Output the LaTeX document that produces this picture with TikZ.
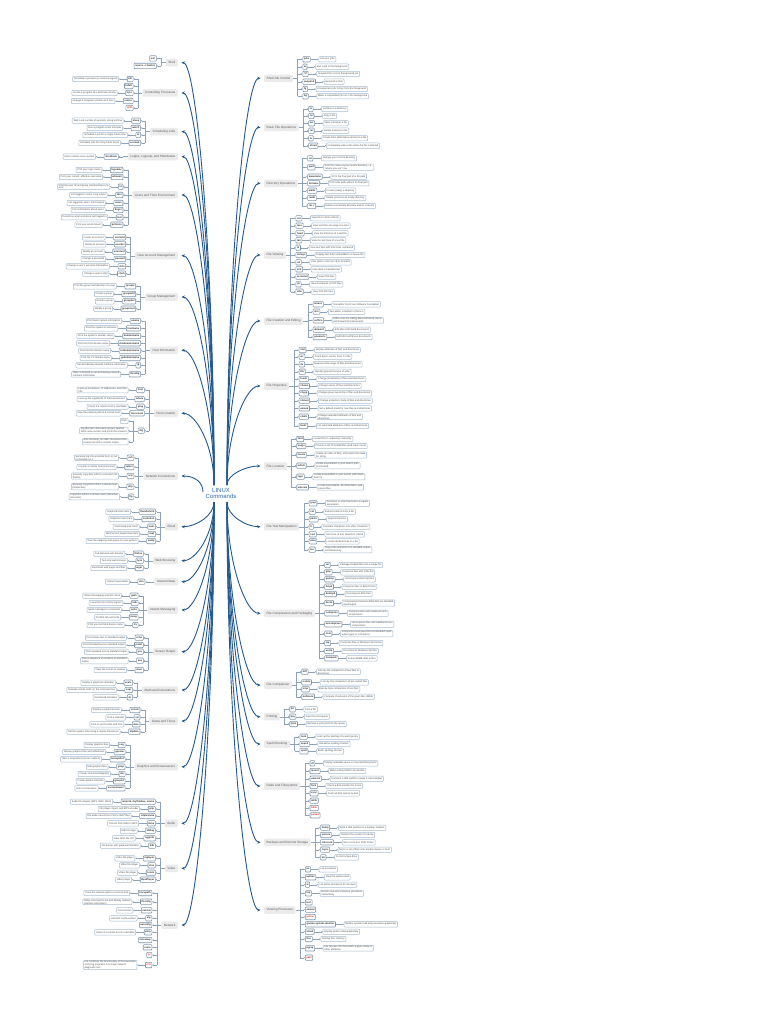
\documentclass[tikz,border=0pt]{standalone}
\usepackage{fontspec}
\setmainfont{Liberation Sans}
\usepackage{tikz}
\usetikzlibrary{arrows.meta}
\usetikzlibrary{calc}
\usepackage{xcolor}
\definecolor{trunk}{HTML}{245A8E}
\definecolor{hubblue}{HTML}{2F6CA6}
\definecolor{topicfill}{HTML}{EBEBEB}
\definecolor{topictext}{HTML}{5A5A5A}
\definecolor{cmdline}{HTML}{7E97AF}
\definecolor{descline}{HTML}{A7BCD0}
\definecolor{cmdtext}{HTML}{2A2A2A}
\definecolor{desctext}{HTML}{4A4A4A}
\definecolor{twigc}{HTML}{8CA3B9}
\definecolor{warnred}{HTML}{E0301E}

% left branch: category, its commands and their notes
\newcommand{\leftcat}[4]{%
  \node[topic,anchor=east] (#1) at (178,#2) {#3};
  \coordinate (brk) at ([xshift=-4.5pt]#1.west);
  \draw[spine] (#1.west) -- (brk);
  \draw[conn] (#4) .. controls ($(#4)!0.55!(#4 |- #1.east)$) and ([xshift=18pt]#1.east) .. ([xshift=3.5pt]#1.east);
}
\newcommand{\leftcmd}[5][]{%
  \node[cmd,anchor=east,xshift=-4.5pt,#1] (#2) at (brk |- 0,#3) {#4};
  \node[desc,anchor=east] (#2d) at ([xshift=-8pt]#2.west) {#5};
  \draw[twig] (brk |- #2) -- (#2.east);
  \draw[twig] (#2.west) -- (#2d.east);
}
\newcommand{\leftbare}[4][]{%
  \node[cmd,anchor=east,xshift=-4.5pt,#1] (#2) at (brk |- 0,#3) {#4};
  \draw[twig] (brk |- #2) -- (#2.east);
}
% right branch
\newcommand{\rightcat}[4]{%
  \node[topic,anchor=west] (#1) at (264,#2) {#3};
  \coordinate (brk) at ([xshift=4.5pt]#1.east);
  \draw[spine] (#1.east) -- (brk);
  \draw[conn] (#4) .. controls ($(#4)!0.55!(#4 |- #1.west)$) and ([xshift=-18pt]#1.west) .. ([xshift=-3.5pt]#1.west);
}
\newcommand{\rightcmd}[5][]{%
  \node[cmd,anchor=west,xshift=5pt,#1] (#2) at (brk |- 0,#3) {#4};
  \node[desc,anchor=west] (#2d) at ([xshift=8pt]#2.east) {#5};
  \draw[twig] (brk |- #2) -- (#2.west);
  \draw[twig] (#2.east) -- (#2d.west);
}
\newcommand{\rightbare}[4][]{%
  \node[cmd,anchor=west,xshift=5pt,#1] (#2) at (brk |- 0,#3) {#4};
  \draw[twig] (brk |- #2) -- (#2.west);
}
\newcommand{\spinebar}[2]{\draw[spine] (brk |- #1) -- (brk |- #2);}

\begin{document}
\begin{tikzpicture}[x=1pt,y=-1pt,>=Stealth,
  topic/.style={fill=topicfill,text=topictext,rounded corners=1pt,inner xsep=2.5pt,inner ysep=1pt,minimum height=7.5pt,font=\fontsize{3.1}{3.6}\selectfont},
  cmd/.style={draw=cmdline,line width=0.6pt,fill=white,rounded corners=0.8pt,inner xsep=1.2pt,inner ysep=0.6pt,minimum height=5.4pt,text=cmdtext,font=\bfseries\fontsize{2.5}{2.9}\selectfont},
  desc/.style={draw=descline,line width=0.5pt,fill=white,rounded corners=0.8pt,inner xsep=1.3pt,inner ysep=0.6pt,minimum height=5.4pt,align=left,text=desctext,font=\fontsize{2.45}{2.85}\selectfont},
  warn/.style={text=warnred},
  twig/.style={draw=twigc,line width=0.35pt,-{Stealth[length=1.4pt,width=1.4pt]}},
  spine/.style={draw=twigc,line width=0.4pt},
  conn/.style={draw=trunk,line width=0.9pt,-{Stealth[length=3.2pt,width=3pt]}},
  hubtext/.style={text=hubblue,align=center,font=\fontsize{6}{6.8}\selectfont}]

	\fill[white] (0,0) rectangle (768,1024);
	\useasboundingbox (0,0) rectangle (768,1024);

	%--- centre ---
	\node[hubtext] (hub) at (221,493.5) {LINUX\\Commands};
	\coordinate (hubNL) at (214,485);
	\coordinate (hubNR) at (227,485);
	\coordinate (hubSL) at (214,502);
	\coordinate (hubSR) at (227,502);
	\coordinate (hubW) at (203,492);

	%--- left: Shell ---
	\leftcat{sh}{62.7}{Shell}{hubNL}
	\leftbare{sh1}{58.5}{exit}
	\leftbare{sh2}{66}{source \textasciitilde/.bashrc}
	\spinebar{sh1}{sh2}

	%--- left: Controlling Processes ---
	\leftcat{cp}{93}{Controlling Processes}{hubNL}
	\leftcmd{cp1}{79}{kill}{Terminate a process (or send it a signal)}
	\leftbare{cp2}{86}{killall}
	\leftcmd{cp3}{93}{nice}{Invoke a program at a particular priority}
	\leftcmd{cp4}{101}{renice}{Change a program's priority as it runs}
	\leftbare[warn]{cp5}{108}{xkill}
	\spinebar{cp1}{cp5}

	%--- left: Scheduling Jobs ---
	\leftcat{sj}{131.7}{Scheduling Jobs}{hubNL}
	\leftcmd{sj1}{120.7}{sleep}{Wait a set number of seconds, doing nothing}
	\leftcmd{sj2}{128}{watch}{Run a program at set intervals}
	\leftcmd{sj3}{135}{at}{Schedule a job for a single, future time}
	\leftcmd{sj4}{143}{crontab}{Schedule jobs for many future times}
	\spinebar{sj1}{sj4}

	%--- left: Logins, Logouts, and Shutdowns ---
	\leftcat{lo}{156.7}{Logins, Logouts, and Shutdowns}{hubNL}
	\leftcmd{lo1}{156.7}{shutdown}{Halt or reboot Linux system}

	%--- left: Users and Their Environment ---
	\leftcat{ue}{195}{Users and Their Environment}{hubNL}
	\leftcmd{ue1}{170}{logname}{Print your login name}
	\leftcmd{ue2}{177}{whoami}{Print your current, effective username}
	\leftcmd{ue3}{186.7}{id}{Print the user ID and group memberships of a\\user}
	\leftcmd{ue4}{195}{who}{List logged-in users, long output}
	\leftcmd{ue5}{203}{users}{List logged-in users, short output}
	\leftcmd{ue6}{210}{finger}{Print information about users}
	\leftcmd{ue7}{217.3}{last}{Determine when someone last logged in}
	\leftcmd{ue8}{224.7}{printenv}{Print your environment}
	\spinebar{ue1}{ue8}

	%--- left: User Account Management ---
	\leftcat{ua}{255.7}{User Account Management}{hubNL}
	\leftcmd{ua1}{237.3}{useradd}{Create an account}
	\leftcmd{ua2}{244.3}{userdel}{Delete an account}
	\leftcmd{ua3}{251.7}{usermod}{Modify an account}
	\leftcmd{ua4}{259}{passwd}{Change a password}
	\leftcmd{ua5}{266.3}{chfn}{Change a user's personal information}
	\leftcmd{ua6}{273.7}{chsh}{Change a user's shell}
	\spinebar{ua1}{ua6}

	%--- left: Group Management ---
	\leftcat{gm}{297}{Group Management}{hubNL}
	\leftcmd{gm1}{286.3}{groups}{Print the group membership of a user}
	\leftcmd{gm2}{294}{groupadd}{Create a group}
	\leftcmd{gm3}{301.3}{groupdel}{Delete a group}
	\leftcmd{gm4}{308.7}{groupmod}{Modify a group}
	\spinebar{gm1}{gm4}

	%--- left: Host Information ---
	\leftcat{hi}{350.3}{Host Information}{hubNL}
	\leftcmd{hi1}{321}{uname}{Print basic system information}
	\leftcmd{hi2}{328.3}{hostname}{Print the system's hostname}
	\leftcmd{hi3}{336}{domainname}{Print the system's domain name}
	\leftcmd{hi4}{343.3}{dnsdomainname}{Print the DNS domain name}
	\leftcmd{hi5}{350.7}{nisdomainname}{Print the NIS domain name}
	\leftcmd{hi6}{358}{ypdomainname}{Print the YP domain name}
	\leftcmd{hi7}{365.3}{ip}{Set and display network interface information}
	\leftcmd{hi8}{374.3}{ifconfig}{Older command to set and display network\\interface information}
	\spinebar{hi1}{hi8}

	%--- left: Host Location ---
	\leftcat{hl}{413.3}{Host Location}{hubNL}
	\leftcmd{hl1}{390}{host}{Look up hostnames, IP addresses, and DNS\\info}
	\leftcmd{hl2}{399}{whois}{Look up the registrants of Internet domains}
	\leftcmd{hl3}{406.7}{ping}{Check if a remote host is reachable}
	\leftcmd{hl4}{413.3}{traceroute}{View the network path to a remote host}
	\leftbare{hl5}{430.7}{dig}
	\coordinate (hlk) at ([xshift=-4.5pt]hl5.west);
	\draw[spine] (hl5.west) -- (hlk);
	\node[desc,anchor=east] (hl5a) at ([xshift=-5pt]hlk |- 0,421) {DNS};
	\node[desc,anchor=east] (hl5b) at ([xshift=-5pt]hlk |- 0,430.7) {Dig (domain information groper) queries\\DNS name servers and prints the answers};
	\node[desc,anchor=east] (hl5c) at ([xshift=-5pt]hlk |- 0,441.7) {Also nslookup, an older interactive DNS\\lookup tool with a simpler output};
	\draw[twig] (hlk |- hl5a) -- (hl5a.east);
	\draw[twig] (hlk |- hl5b) -- (hl5b.east);
	\draw[twig] (hlk |- hl5c) -- (hl5c.east);
	\draw[spine] (hlk |- hl5a) -- (hlk |- hl5c);
	\spinebar{hl1}{hl5}

	%--- left: Network Connections ---
	\leftcat{nc}{476}{Network Connections}{hubW}
	\leftcmd{nc1}{457.7}{ssh}{Securely log into a remote host, or run\\commands on it}
	\leftcmd{nc2}{467}{telnet}{Log into a remote host (insecure!)}
	\leftcmd{nc3}{476}{scp}{Securely copy files to/from a remote host\\(batch)}
	\leftcmd{nc4}{486.7}{sftp}{Securely copy files to/from a remote host\\(interactive)}
	\leftcmd{nc5}{496.7}{ftp}{Copy files to/from a remote host (interactive,\\insecure!)}
	\spinebar{nc1}{nc5}

	%--- left: Email ---
	\leftcat{em}{526.7}{Email}{hubSL}
	\leftcmd{em1}{511.7}{thunderbird}{Graphical mail client}
	\leftcmd{em2}{519}{evolution}{Graphical mail client}
	\leftcmd{em3}{526.7}{mutt}{Text-based mail client}
	\leftcmd{em4}{534}{mail}{Minimal text-based mail client}
	\leftcmd{em5}{541}{mailq}{View the outgoing mail queue on your system}
	\spinebar{em1}{em5}

	%--- left: Web Browsing ---
	\leftcat{wb}{560.7}{Web Browsing}{hubSL}
	\leftcmd{wb1}{553.7}{firefox}{Full-featured web browser}
	\leftcmd{wb2}{560.7}{lynx}{Text-only web browser}
	\leftcmd{wb3}{568}{wget}{Download web pages and files}
	\spinebar{wb1}{wb3}

	%--- left: Usenet News ---
	\leftcat{un}{581.7}{Usenet News}{hubSL}
	\leftcmd{un1}{581.7}{slrn}{Usenet newsreader}

	%--- left: Instant Messaging ---
	\leftcat{im}{610}{Instant Messaging}{hubSL}
	\leftcmd{im1}{595.7}{gaim}{Instant messaging and IRC client}
	\leftcmd{im2}{603}{talk}{Linux/Unix text chat program}
	\leftcmd{im3}{610}{write}{Send messages to a terminal}
	\leftcmd{im4}{617.3}{mesg}{Prohibit talk and write}
	\leftcmd{im5}{625}{tty}{Print your terminal device name}
	\spinebar{im1}{im5}

	%--- left: Screen Output ---
	\leftcat{so}{651.7}{Screen Output}{hubSL}
	\leftcmd{so1}{637.7}{echo}{Print simple text on standard output}
	\leftcmd{so2}{645}{printf}{Print formatted text on standard output}
	\leftcmd{so3}{651.7}{yes}{Print repeated text on standard output}
	\leftcmd{so4}{660.7}{seq}{Print a sequence of numbers on standard\\output}
	\leftcmd{so5}{670}{clear}{Clear the screen or window}
	\spinebar{so1}{so5}

	%--- left: Math and Calculations ---
	\leftcat{mc}{690}{Math and Calculations}{hubSL}
	\leftcmd{mc1}{682.7}{xcalc}{Display a graphical calculator}
	\leftcmd{mc2}{690}{expr}{Evaluate simple math on the command line}
	\leftcmd{mc3}{697.3}{dc}{Text-based calculator}
	\spinebar{mc1}{mc3}

	%--- left: Dates and Times ---
	\leftcat{dt}{721}{Dates and Times}{hubSL}
	\leftcmd{dt1}{710}{xclock}{Display a graphical clock}
	\leftcmd{dt2}{717.3}{cal}{Print a calendar}
	\leftcmd{dt3}{724.3}{date}{Print or set the date and time}
	\leftcmd{dt4}{731.7}{ntpdate}{Set the system time using a remote timeserver}
	\spinebar{dt1}{dt4}

	%--- left: Graphics and Screensavers ---
	\leftcat{gs}{766.7}{Graphics and Screensavers}{hubSL}
	\leftcmd{gs1}{745}{eog}{Display graphics files}
	\leftcmd{gs2}{752}{gqview}{Display graphics files and slideshows}
	\leftcmd{gs3}{759.3}{ksnapshot}{Take a screenshot (screen capture)}
	\leftcmd{gs4}{766.7}{gimp}{Edit graphics files}
	\leftcmd{gs5}{774}{dia}{Create structured diagrams}
	\leftcmd{gs6}{781.3}{gnuplot}{Create graphs and plots}
	\leftcmd{gs7}{788.3}{xscreensaver}{Run a screensaver}
	\spinebar{gs1}{gs7}

	%--- left: Audio ---
	\leftcat{au}{823.3}{Audio}{hubSL}
	\leftcmd{au1}{801.7}{amarok, rhythmbox, xmms}{Audio file players (MP3, WAV, OGG)}
	\leftcmd{au2}{809}{grip}{CD player, ripper, and MP3 encoder}
	\leftcmd{au3}{816}{cdparanoia}{Rip audio tracks from CDs to WAV files}
	\leftcmd{au4}{823.3}{lame}{Convert from WAV to MP3}
	\leftcmd{au5}{830.7}{id3tag}{Edit ID3 tags}
	\leftcmd{au6}{838.3}{ogginfo}{View OGG file info}
	\leftcmd{au7}{845.7}{k3b}{CD burner with graphical interface}
	\spinebar{au1}{au7}

	%--- left: Video ---
	\leftcat{vd}{868.3}{Video}{hubSL}
	\leftcmd{vd1}{858.3}{mplayer}{Video file player}
	\leftcmd{vd2}{865.3}{xine}{Video file player}
	\leftcmd{vd3}{872.7}{totem}{Video file player}
	\leftcmd{vd4}{879.7}{RealPlayer}{Video player}
	\spinebar{vd1}{vd4}

	%--- left: Network ---
	\leftcat{nw}{925}{Network}{hubSL}
	\leftcmd{nw1}{893}{tracepath}{Trace the network path to a remote host}
	\leftcmd{nw2}{901.7}{ifconfig}{Older command to set and display network\\interface information}
	\leftcmd{nw3}{910.3}{netstat}{Connections}
	\leftcmd{nw4}{918.3}{arp}{List ARP cache entries}
	\leftbare{nw5}{925}{iwconfig}
	\leftcmd{nw6}{932.3}{ping}{Check if a remote host is reachable}
	\leftbare{nw7}{940}{nslookup}
	\leftbare{nw8}{947.3}{route}
	\leftbare[warn]{nw9}{955}{nc}
	\leftcmd[warn]{nw10}{965}{mtr}{mtr combines the functionality of the traceroute\\and ping programs in a single network\\diagnostic tool}
	\spinebar{nw1}{nw10}

	%--- right: Shell Job Control ---
	\rightcat{sc}{78.3}{Shell Job Control}{hubNR}
	\rightcmd{sc1}{59.3}{jobs}{List your jobs}
	\rightcmd{sc2}{66.7}{\&}{Run a job in the background}
	\rightcmd{sc3}{74}{\^{}Z}{Suspend the current (foreground) job}
	\rightcmd{sc4}{81.7}{suspend}{Suspend a shell}
	\rightcmd{sc5}{89}{fg}{Unsuspend a job: bring it into the foreground}
	\rightcmd{sc6}{96.3}{bg}{Make a suspended job run in the background}
	\spinebar{sc1}{sc6}

	%--- right: Basic File Operations ---
	\rightcat{bf}{127.3}{Basic File Operations}{hubNR}
	\rightcmd{bf1}{109}{ls}{List files in a directory}
	\rightcmd{bf2}{116}{cp}{Copy a file}
	\rightcmd{bf3}{123.3}{mv}{Move (rename) a file}
	\rightcmd{bf4}{130.7}{rm}{Delete (remove) a file}
	\rightcmd{bf5}{138.3}{ln}{Create links (alternative names) to a file}
	\rightcmd{bf6}{145.7}{shred}{Completely erase a file when the file is deleted}
	\spinebar{bf1}{bf6}

	%--- right: Directory Operations ---
	\rightcat{dr}{183.3}{Directory Operations}{hubNR}
	\rightcmd{dr1}{158.3}{cd}{Change your current directory}
	\rightcmd{dr2}{167.3}{pwd}{Print the name of your current directory, i.e.,\\“where you are” now}
	\rightcmd{dr3}{176.7}{basename}{Print the final part of a file path}
	\rightcmd{dr4}{183.3}{dirname}{Print a file path without its final part}
	\rightcmd{dr5}{190.7}{mkdir}{Create (make) a directory}
	\rightcmd{dr6}{198}{rmdir}{Delete (remove) an empty directory}
	\rightcmd{dr7}{206}{rm -r}{Delete a nonempty directory and its contents}
	\spinebar{dr1}{dr7}

	%--- right: File Viewing ---
	\rightcat{fv}{255}{File Viewing}{hubNR}
	\rightcmd{fv1}{218.3}{cat}{View files in their entirety}
	\rightcmd{fv2}{225.7}{less}{View text files one page at a time}
	\rightcmd{fv3}{233.3}{head}{View the first lines of a text file}
	\rightcmd{fv4}{240.3}{tail}{View the last lines of a text file}
	\rightcmd{fv5}{247.7}{nl}{View text files with their lines numbered}
	\rightcmd{fv6}{255}{strings}{Display text that's embedded in a binary file}
	\rightcmd{fv7}{262.3}{od}{View data in octal (or other formats)}
	\rightcmd{fv8}{269.3}{xxd}{View data in hexadecimal}
	\rightcmd{fv9}{276.7}{acroread}{View PDF files}
	\rightcmd{fv10}{284.3}{gv}{View PostScript or PDF files}
	\rightcmd{fv11}{291.7}{xdvi}{View TeX DVI files}
	\spinebar{fv1}{fv11}

	%--- right: File Creation and Editing ---
	\rightcat{fc}{321}{File Creation and Editing}{hubNR}
	\rightcmd{fc1}{304.3}{emacs}{Text editor from Free Software Foundation}
	\rightcmd{fc2}{311.7}{vim}{Text editor, extension of Unix vi}
	\rightcmd{fc3}{320.3}{soffice}{Office suite for editing Microsoft Word, Excel,\\and PowerPoint documents}
	\rightcmd{fc4}{329.7}{abiword}{Edit Microsoft Word documents}
	\rightcmd{fc5}{337}{gnumeric}{Edit Microsoft Excel documents}
	\spinebar{fc1}{fc5}

	%--- right: File Properties ---
	\rightcat{fp}{386}{File Properties}{hubNR}
	\rightcmd{fp1}{350}{stat}{Display attributes of files and directories}
	\rightcmd{fp2}{356.7}{wc}{Count bytes, words, lines in a file}
	\rightcmd{fp3}{364.3}{du}{Measure disk usage of files and directories}
	\rightcmd{fp4}{371.7}{file}{Identify (guess) the type of a file}
	\rightcmd{fp5}{379}{touch}{Change timestamps of files and directories}
	\rightcmd{fp6}{386}{chown}{Change owner of files and directories}
	\rightcmd{fp7}{393.3}{chgrp}{Change group ownership of files and directories}
	\rightcmd{fp8}{400.7}{chmod}{Change protection mode of files and directories}
	\rightcmd{fp9}{408.3}{umask}{Set a default mode for new files and directories}
	\rightcmd{fp10}{416.7}{chattr}{Change extended attributes of files and\\directories}
	\rightcmd{fp11}{426}{lsattr}{List extended attributes of files and directories}
	\spinebar{fp1}{fp11}

	%--- right: File Location ---
	\rightcat{fl}{466}{File Location}{hubNR}
	\rightcmd{fl1}{439}{find}{Locate files in a directory hierarchy}
	\rightcmd{fl2}{446}{xargs}{Process a list of located files (and much more)}
	\rightcmd{fl3}{455}{locate}{Create an index of files, and search the index\\for string}
	\rightcmd{fl4}{465.7}{which}{Locate executables in your search path\\(command)}
	\rightcmd{fl5}{476.7}{type}{Locate executables in your search path (bash\\built-in)}
	\rightcmd{fl6}{487.3}{whereis}{Locate executables, documentation, and\\source files}
	\spinebar{fl1}{fl6}

	%--- right: File Text Manipulation ---
	\rightcat{ft}{526.7}{File Text Manipulation}{hubSR}
	\rightcmd{ft1}{503.3}{grep}{Find lines in a file that match a regular\\expression}
	\rightcmd{ft2}{511.7}{cut}{Extract columns from a file}
	\rightcmd{ft3}{519.3}{paste}{Append columns}
	\rightcmd{ft4}{526.7}{tr}{Translate characters into other characters}
	\rightcmd{ft5}{534.3}{sort}{Sort lines of text, based on criteria}
	\rightcmd{ft6}{541.3}{uniq}{Locate identical lines in a file}
	\rightcmd{ft7}{549.7}{tee}{Copy a file and print it on standard output,\\simultaneously}
	\spinebar{ft1}{ft7}

	%--- right: File Compression and Packaging ---
	\rightcat{fz}{613.3}{File Compression and Packaging}{hubSR}
	\rightcmd{fz1}{565}{tar}{Package multiple files into a single file}
	\rightcmd{fz2}{572.3}{gzip}{Compress files with GNU Zip}
	\rightcmd{fz3}{579.3}{gunzip}{Uncompress GNU Zip files}
	\rightcmd{fz4}{586.7}{bzip2}{Compress files in BZip format}
	\rightcmd{fz5}{594}{bunzip2}{Uncompress BZip files}
	\rightcmd{fz6}{603}{bzcat}{Compress/uncompress BZip files via standard\\input/output}
	\rightcmd{fz7}{613.3}{compress}{Compress files with traditional Unix\\compression}
	\rightcmd{fz8}{624.3}{uncompress}{Uncompress files with traditional Unix\\compression}
	\rightcmd{fz9}{633.7}{zcat}{Compress/uncompress file via standard input/\\output (gzip or compress)}
	\rightcmd{fz10}{643}{zip}{Compress files in Windows Zip format}
	\rightcmd{fz11}{651}{unzip}{Uncompress Windows Zip files}
	\rightcmd{fz12}{658.3}{munpack}{Extract MIME data to files}
	\spinebar{fz1}{fz12}

	%--- right: File Comparison ---
	\rightcat{fm}{685}{File Comparison}{hubSR}
	\rightcmd{fm1}{671.7}{diff}{Line-by-line comparison of two files or\\directories}
	\rightcmd{fm2}{682.3}{comm}{Line-by-line comparison of two sorted files}
	\rightcmd{fm3}{689.3}{cmp}{Byte-by-byte comparison of two files}
	\rightcmd{fm4}{696.7}{md5sum}{Compute checksums of the given files (MD5)}
	\spinebar{fm1}{fm4}

	%--- right: Printing ---
	\rightcat{pr}{716.7}{Printing}{hubSR}
	\rightcmd{pr1}{709.3}{lpr}{Print a file}
	\rightcmd{pr2}{716.7}{lpq}{View the print queue}
	\rightcmd{pr3}{724}{lprm}{Remove a print job from the queue}
	\spinebar{pr1}{pr3}

	%--- right: Spell Checking ---
	\rightcat{sp}{744}{Spell Checking}{hubSR}
	\rightcmd{sp1}{736.7}{look}{Look up the spelling of a word quickly}
	\rightcmd{sp2}{744}{aspell}{Interactive spelling checker}
	\rightcmd{sp3}{751.3}{spell}{Batch spelling checker}
	\spinebar{sp1}{sp3}

	%--- right: Disks and Filesystems ---
	\rightcat{dk}{786}{Disks and Filesystems}{hubSR}
	\rightcmd{dk1}{763.3}{df}{Display available space on mounted filesystems}
	\rightcmd{dk2}{771}{mount}{Make a disk partition accessible}
	\rightcmd{dk3}{778.7}{umount}{Unmount a disk partition (make it inaccessible)}
	\rightcmd{dk4}{786}{fsck}{Check a disk partition for errors}
	\rightcmd{dk5}{793.3}{sync}{Flush all disk caches to disk}
	\rightbare{dk6}{800.7}{mkfs}
	\rightbare[warn]{dk7}{808}{fdisk}
	\rightbare[warn]{dk8}{815.3}{parted}
	\spinebar{dk1}{dk8}

	%--- right: Backups and Remote Storage ---
	\rightcat{bk}{842.3}{Backups and Remote Storage}{hubSR}
	\rightcmd{bk1}{827.7}{dump}{Write a disk partition to a backup medium}
	\rightcmd{bk2}{835}{restore}{Restore the results of a dump}
	\rightcmd{bk3}{842.3}{cdrecord}{Burn a CD-R or DVD-R disc}
	\rightcmd{bk4}{849.7}{rsync}{Mirror a set of files onto another device or host}
	\rightcmd{bk5}{857.3}{mt}{Control a tape drive}
	\spinebar{bk1}{bk5}

	%--- right: Viewing Processes ---
	\rightcat{vp}{910}{Viewing Processes}{hubSR}
	\rightcmd{vp1}{869.3}{ps}{List processes}
	\rightcmd{vp2}{877.3}{uptime}{View the system load}
	\rightcmd{vp3}{884.7}{w}{List active processes for all users}
	\rightcmd{vp4}{893.3}{top}{Monitor resource-intensive processes\\interactively}
	\rightbare{vp5}{902.3}{lsof}
	\rightbare{vp6}{909.7}{vmstat}
	\rightbare[warn]{vp7}{917}{pstree}
	\rightcmd{vp8}{924.3}{gnome-system-monitor}{Monitor system load and processes graphically}
	\rightcmd{vp9}{931.7}{xload}{Display system load graphically}
	\rightcmd{vp10}{939}{free}{Display free memory}
	\rightcmd{vp11}{948.3}{pgrep}{List process IDs that match a given name or\\other attributes}
	\rightbare[warn]{vp12}{957.7}{pkill}
	\spinebar{vp1}{vp12}

\end{tikzpicture}
\end{document}
